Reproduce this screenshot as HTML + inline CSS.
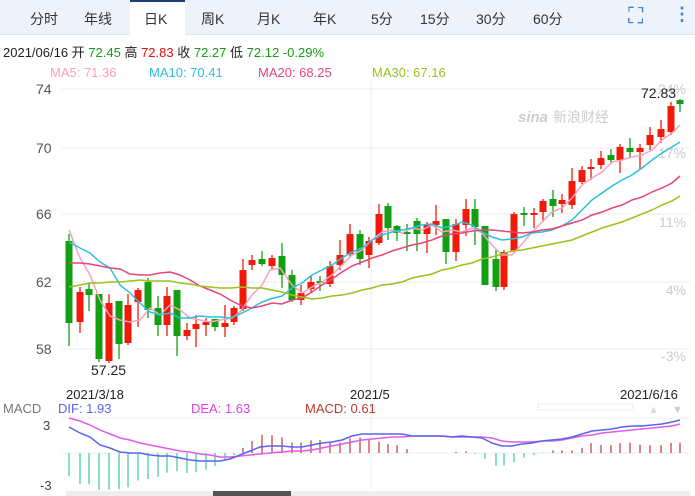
<!DOCTYPE html><html><head><meta charset="utf-8"><style>
body{margin:0;width:695px;height:496px;overflow:hidden;background:#fff;font-family:"Liberation Sans","Noto Sans CJK SC",sans-serif;position:relative}
.top{position:absolute;left:0;top:0;width:695px;height:34px;background:#eef3fb;border-bottom:1px solid #dde6f3}
.tab{position:absolute;top:9px;font-size:14px;color:#333}
.sel{position:absolute;left:130px;top:0;width:55px;height:35px;background:#fff;border-top:2px solid #1d3c7a;box-sizing:border-box}
.t{position:absolute;font-size:13px;white-space:nowrap}
</style></head><body>
<div class="top"></div><div class="sel"></div>
<div class="tab" style="left:30px">分时</div><div class="tab" style="left:84px">年线</div><div class="tab" style="left:144px">日K</div><div class="tab" style="left:201px">周K</div><div class="tab" style="left:257px">月K</div><div class="tab" style="left:313px">年K</div><div class="tab" style="left:371px">5分</div><div class="tab" style="left:420px">15分</div><div class="tab" style="left:476px">30分</div><div class="tab" style="left:533px">60分</div>
<div class="t" style="left:628px;top:3px;font-size:22px;color:#3b7dd8">⛶</div><div class="t" style="left:673px;top:4px;font-size:18px;color:#3b7dd8;font-weight:bold">⋮</div>
<div class="t" style="left:3px;top:42px;color:#222">2021/06/16 开 <span style="color:#1a9a1a">72.45</span> 高 <span style="color:#e01010">72.83</span> 收 <span style="color:#1a9a1a">72.27</span> 低 <span style="color:#1a9a1a">72.12</span> <span style="color:#1a9a1a">-0.29%</span></div>
<div class="t" style="left:50px;top:65px;color:#f8a2bc">MA5: 71.36</div><div class="t" style="left:149px;top:65px;color:#2cbfe0">MA10: 70.41</div><div class="t" style="left:258px;top:65px;color:#e8457a">MA20: 68.25</div><div class="t" style="left:372px;top:65px;color:#99c21c">MA30: 67.16</div>
<svg id="s" width="695" height="496" style="position:absolute;left:0;top:0"></svg>
<script>
const s=document.getElementById('s');let h='';
[89,148,214,282,349].forEach(y=>h+=`<line x1="62" x2="690" y1="${y}" y2="${y}" stroke="#ececec"/>`);
h+=`<line x1="371" x2="371" y1="80" y2="490" stroke="#ececec"/>`;
[['74',89],['70',148],['66',214],['62',282],['58',349]].forEach(a=>h+=`<text x="36" y="${a[1]+5}" font-size="14" fill="#555">${a[0]}</text>`);
[['24%',94],['17%',158],['11%',227],['4%',295],['-3%',361]].forEach(a=>h+=`<text x="686" y="${a[1]}" font-size="14" fill="#ccc" text-anchor="end">${a[0]}</text>`);
h+=`<text x="518" y="122" font-size="15" fill="#ccc" font-style="italic" font-weight="bold">sina</text><text x="553" y="122" font-size="14" fill="#ccc">新浪财经</text>`;
const C=[[69,'g',241,323,234,346],[80,'r',292,322,287,333],[89,'g',289,295,283,311],[99,'g',294,359,294,362],[109,'r',303,361,294,363],[119,'g',301,344,301,359],[128,'r',305,343,294,345],[138,'r',290,302,288,327],[148,'g',282,310,278,318],[158,'g',308,325,296,336],[167,'r',296,325,287,336],[177,'g',290,336,290,356],[187,'r',330,336,323,340],[196,'r',324,329,315,347],[206,'r',322,325,318,336],[215,'g',319,327,319,331],[225,'r',323,327,305,337],[234,'r',308,322,306,325],[243,'r',270,309,259,311],[252,'r',260,265,255,270],[262,'g',259,264,251,266],[272,'r',258,266,255,270],[282,'g',256,275,243,288],[292,'g',275,300,270,302],[301,'r',293,300,285,305],[311,'r',282,289,276,292],[320,'g',281,283,276,291],[330,'r',266,284,261,287],[340,'r',255,265,240,270],[350,'r',234,254,224,257],[360,'g',234,259,230,265],[369,'r',241,255,237,268],[379,'r',214,243,204,245],[388,'g',206,228,203,240],[397,'g',226,233,225,241],[407,'g',232,234,224,251],[417,'g',221,234,218,251],[427,'r',225,234,222,253],[436,'r',221,225,205,235],[446,'g',219,252,219,264],[456,'r',224,252,219,261],[466,'r',209,225,199,236],[475,'g',209,227,199,245],[485,'g',226,285,226,285],[496,'g',259,287,250,291],[504,'r',252,287,250,290],[514,'r',214,251,212,253],[524,'g',213,215,207,226],[534,'r',213,215,208,228],[543,'r',201,212,199,222],[553,'g',199,206,190,217],[562,'r',200,204,194,213],[572,'r',181,205,168,209],[582,'r',170,182,166,184],[591,'r',167,169,159,180],[601,'r',158,165,151,169],[611,'g',155,160,149,164],[620,'r',147,160,144,173],[630,'g',148,152,138,158],[640,'r',148,152,144,169],[650,'r',135,145,127,150],[661,'r',129,137,120,143],[671,'r',106,132,102,135],[680,'g',100,104,99,112]];
C.forEach(c=>{const col=c[1]=='r'?'#f01a0a':'#12a012';h+=`<line x1="${c[0]}" x2="${c[0]}" y1="${c[4]}" y2="${c[5]}" stroke="${col}" stroke-width="1.3"/><rect x="${c[0]-3.5}" y="${c[2]}" width="7" height="${Math.max(c[3]-c[2],1.5)}" fill="${col}"/>`});
const P=(a,col)=>{h+=`<polyline fill="none" stroke="${col}" stroke-width="1.5" points="${a}"/>`};
P('69,230 80,258 90,275 100,300 110,316 120,320 130,322 140,320 150,308 160,315 170,305 180,310 190,318 200,320 210,322 220,320 232,318 240,312 252,295 262,285 270,270 280,268 292,285 302,293 312,287 322,282 332,275 342,265 352,255 362,250 372,240 382,232 392,230 402,233 412,228 422,230 432,225 442,232 452,230 462,232 472,228 482,233 492,245 502,255 512,255 522,244 532,232 542,222 552,212 562,208 572,198 582,185 592,178 602,172 612,162 622,160 632,157 642,155 652,150 662,140 672,133 680,125','#f8a2bc');
P('69,242 80,248 90,253 100,262 110,268 120,285 130,293 140,303 150,312 160,315 170,313 180,318 190,318 200,316 210,317 220,317 230,318 240,314 250,309 260,303 270,299 282,296 292,288 302,283 312,275 322,270 332,265 342,258 352,252 362,248 372,240 382,235 392,232 402,230 412,228 422,225 432,224 442,228 452,226 462,222 472,225 482,232 492,237 502,240 512,239 522,237 532,233 542,232 552,230 562,226 572,220 582,210 592,200 602,193 612,186 622,180 632,175 642,168 652,160 662,153 672,147 680,142','#2cbfe0');
P('69,263 80,263 90,264 100,266 110,268 120,269 130,274 140,275 150,275 160,273 170,272 180,275 190,280 200,286 210,290 220,294 232,301 242,306 252,308 262,306 272,303 282,304 292,300 302,298 312,292 322,285 332,279 342,272 352,266 362,262 372,258 382,255 392,251 402,248 412,245 422,243 432,240 442,236 452,234 462,233 472,231 482,230 492,230 502,231 512,232 522,233 532,232 542,230 552,229 562,226 572,223 582,220 592,215 602,212 612,208 622,205 632,200 642,197 652,192 662,188 672,183 680,176','#e8457a');
P('69,287 80,285 90,283 100,283 110,282 120,282 130,281 140,280 150,281 160,281 170,281 180,283 190,284 200,286 210,287 220,288 232,288 242,287 252,288 262,288 272,290 282,292 292,295 302,297 312,299 322,298 332,296 342,295 352,293 362,290 372,288 382,285 392,284 402,282 412,278 422,276 432,274 442,270 452,268 462,265 472,263 482,259 492,257 502,254 512,251 522,250 532,248 542,246 552,244 562,242 572,240 582,236 592,232 602,228 612,225 622,222 632,218 642,214 652,210 662,205 672,201 680,196','#99c21c');
h+=`<text x="641" y="98" font-size="14" fill="#222">72.83</text><text x="91" y="375" font-size="14" fill="#222">57.25</text>`;
h+=`<text x="66" y="399" font-size="13" fill="#222">2021/3/18</text><text x="350" y="399" font-size="13" fill="#222">2021/5</text><text x="620" y="399" font-size="13" fill="#222">2021/6/16</text>`;
h+=`<text x="3" y="413" font-size="13" fill="#777">MACD</text><text x="58" y="413" font-size="13" fill="#5865f2">DIF: 1.93</text><text x="191" y="413" font-size="13" fill="#e040e8">DEA: 1.63</text><text x="305" y="413" font-size="13" fill="#c0392b">MACD: 0.61</text>`;
h+=`<rect x="538" y="404" width="95" height="6" fill="none" stroke="#ddd" stroke-dasharray="1,1"/><text x="648" y="413" font-size="11" fill="#ddd">▲</text><text x="672" y="413" font-size="11" fill="#ccc">▼</text>`;
h+=`<line x1="62" x2="690" y1="418" y2="418" stroke="#eee"/><line x1="62" x2="690" y1="453" y2="453" stroke="#eee"/>`;
h+=`<text x="43" y="430" font-size="13" fill="#444">3</text><text x="40" y="490" font-size="13" fill="#444">-3</text>`;
const D='69,427 80,433 90,437 100,445 110,448 120,452 130,453 140,453 150,455 160,456 170,456 180,458 190,460 200,461 210,461 220,461 230,459 240,455 250,451 260,447 270,446 282,446 292,447 302,447 312,445 322,443 332,442 342,440 352,436 362,434 372,434 382,434 392,434 402,434 412,436 422,436 432,436 442,436 452,437 462,436 472,437 482,438 492,443 502,446 512,446 522,444 532,443 542,441 552,440 562,439 572,437 582,434 592,431 602,430 612,429 622,427 632,426 642,426 652,425 662,424 672,422 680,420';
const E='69,418 80,421 90,425 100,430 110,434 120,438 130,440 140,443 150,445 160,447 170,449 180,451 190,452 200,454 210,455 220,457 230,457 240,456 250,455 260,454 270,453 282,452 292,451 302,451 312,450 322,448 332,446 342,444 352,442 362,440 372,439 382,438 392,437 402,437 412,436 422,436 432,436 442,436 452,437 462,437 472,437 482,437 492,438 502,441 512,442 522,442 532,442 542,441 552,441 562,440 572,438 582,436 592,435 602,433 612,432 622,431 632,430 642,429 652,428 662,427 672,426 680,424';
const dp=D.split(' ').map(p=>p.split(',').map(Number)),ep=E.split(' ').map(p=>p.split(',').map(Number));
const f=(arr,x)=>{for(let i=0;i<arr.length-1;i++)if(x>=arr[i][0]&&x<=arr[i+1][0]){const t=(x-arr[i][0])/(arr[i+1][0]-arr[i][0]);return arr[i][1]+t*(arr[i+1][1]-arr[i][1]);}return arr[arr.length-1][1]};
C.forEach(c=>{const x=c[0];const v=(f(dp,x)-f(ep,x))*2.6;const y2=Math.max(418,Math.min(490,453+v));h+=`<line x1="${x}" x2="${x}" y1="453" y2="${y2}" stroke="${v>0?'#3cc79f':'#c0392b'}" stroke-width="1.2"/>`});
P(E,'#e35be8');P(D,'#5865f2');
h+=`<rect x="66" y="491" width="624" height="5" fill="#eee"/><rect x="213" y="491" width="78" height="5" fill="#555"/>`;
s.innerHTML=h;
</script></body></html>
